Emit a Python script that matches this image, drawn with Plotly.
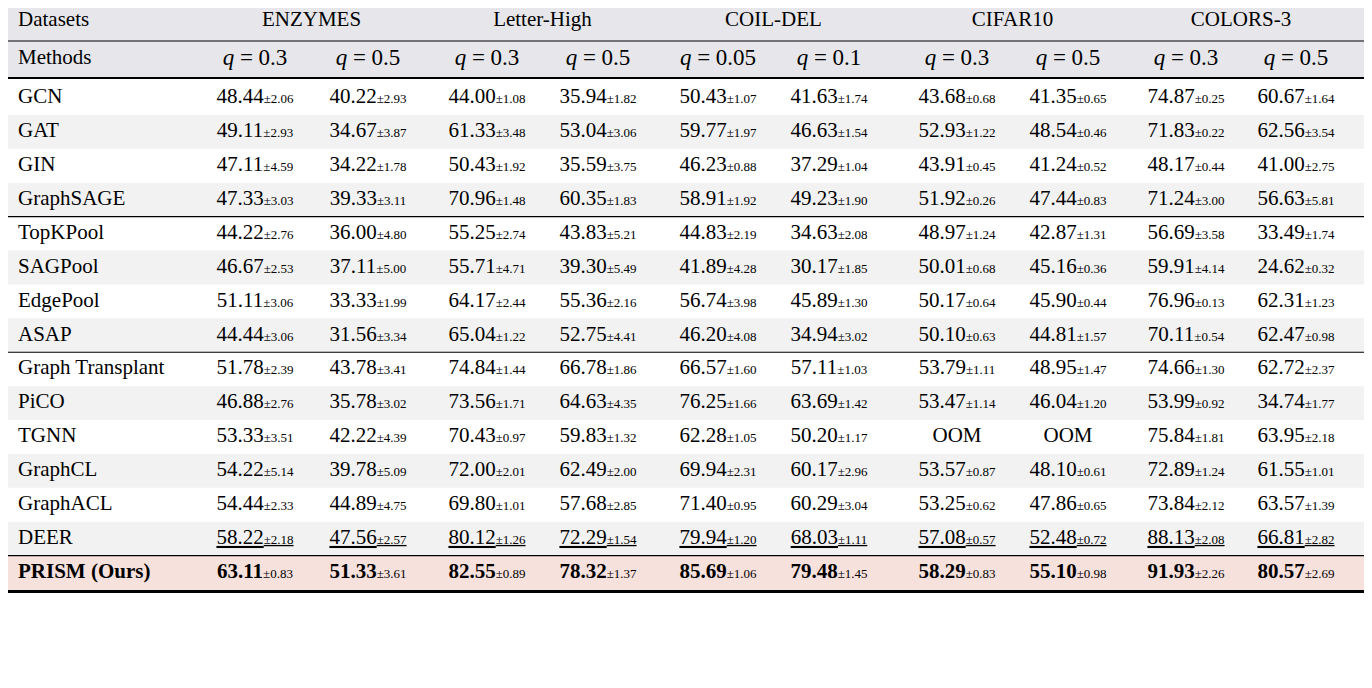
import plotly.graph_objects as go

# Data

datasets = ['ENZYMES', 'Letter-High', 'COIL-DEL', 'CIFAR10', 'COLORS-3']
q_labels = ['0.3', '0.5', '0.3', '0.5', '0.05', '0.1', '0.3', '0.5', '0.3', '0.5']
methods = ['GCN', 'GAT', 'GIN', 'GraphSAGE', 'TopKPool', 'SAGPool', 'EdgePool', 'ASAP',
           'Graph Transplant', 'PiCO', 'TGNN', 'GraphCL', 'GraphACL', 'DEER', 'PRISM (Ours)']
means = [
    [48.44, 40.22, 44.00, 35.94, 50.43, 41.63, 43.68, 41.35, 74.87, 60.67],
    [49.11, 34.67, 61.33, 53.04, 59.77, 46.63, 52.93, 48.54, 71.83, 62.56],
    [47.11, 34.22, 50.43, 35.59, 46.23, 37.29, 43.91, 41.24, 48.17, 41.00],
    [47.33, 39.33, 70.96, 60.35, 58.91, 49.23, 51.92, 47.44, 71.24, 56.63],
    [44.22, 36.00, 55.25, 43.83, 44.83, 34.63, 48.97, 42.87, 56.69, 33.49],
    [46.67, 37.11, 55.71, 39.30, 41.89, 30.17, 50.01, 45.16, 59.91, 24.62],
    [51.11, 33.33, 64.17, 55.36, 56.74, 45.89, 50.17, 45.90, 76.96, 62.31],
    [44.44, 31.56, 65.04, 52.75, 46.20, 34.94, 50.10, 44.81, 70.11, 62.47],
    [51.78, 43.78, 74.84, 66.78, 66.57, 57.11, 53.79, 48.95, 74.66, 62.72],
    [46.88, 35.78, 73.56, 64.63, 76.25, 63.69, 53.47, 46.04, 53.99, 34.74],
    [53.33, 42.22, 70.43, 59.83, 62.28, 50.20, None, None, 75.84, 63.95],
    [54.22, 39.78, 72.00, 62.49, 69.94, 60.17, 53.57, 48.10, 72.89, 61.55],
    [54.44, 44.89, 69.80, 57.68, 71.40, 60.29, 53.25, 47.86, 73.84, 63.57],
    [58.22, 47.56, 80.12, 72.29, 79.94, 68.03, 57.08, 52.48, 88.13, 66.81],
    [63.11, 51.33, 82.55, 78.32, 85.69, 79.48, 58.29, 55.10, 91.93, 80.57],
]
stds = [
    [2.06, 2.93, 1.08, 1.82, 1.07, 1.74, 0.68, 0.65, 0.25, 1.64],
    [2.93, 3.87, 3.48, 3.06, 1.97, 1.54, 1.22, 0.46, 0.22, 3.54],
    [4.59, 1.78, 1.92, 3.75, 0.88, 1.04, 0.45, 0.52, 0.44, 2.75],
    [3.03, 3.11, 1.48, 1.83, 1.92, 1.90, 0.26, 0.83, 3.00, 5.81],
    [2.76, 4.80, 2.74, 5.21, 2.19, 2.08, 1.24, 1.31, 3.58, 1.74],
    [2.53, 5.00, 4.71, 5.49, 4.28, 1.85, 0.68, 0.36, 4.14, 0.32],
    [3.06, 1.99, 2.44, 2.16, 3.98, 1.30, 0.64, 0.44, 0.13, 1.23],
    [3.06, 3.34, 1.22, 4.41, 4.08, 3.02, 0.63, 1.57, 0.54, 0.98],
    [2.39, 3.41, 1.44, 1.86, 1.60, 1.03, 1.11, 1.47, 1.30, 2.37],
    [2.76, 3.02, 1.71, 4.35, 1.66, 1.42, 1.14, 1.20, 0.92, 1.77],
    [3.51, 4.39, 0.97, 1.32, 1.05, 1.17, None, None, 1.81, 2.18],
    [5.14, 5.09, 2.01, 2.00, 2.31, 2.96, 0.87, 0.61, 1.24, 1.01],
    [2.33, 4.75, 1.01, 2.85, 0.95, 3.04, 0.62, 0.65, 2.12, 1.39],
    [2.18, 2.57, 1.26, 1.54, 1.20, 1.11, 0.57, 0.72, 2.08, 2.82],
    [0.83, 3.61, 0.89, 1.37, 1.06, 1.45, 0.83, 0.98, 2.26, 2.69],
]

# Layout (pixel coordinates of the page; the page body has an 8px margin)

col_x = [255, 368, 487, 598, 718, 829, 957, 1068, 1186, 1296]
row_y0, row_h = 98, 33.9
FONT = 'Liberation Serif'
left, right = 5, 1366
OFF = 8

fig = go.Figure()
shapes = []

def band(y0, y1, color):
    shapes.append(dict(type='rect', xref='x', yref='y', x0=left, x1=right, y0=y0, y1=y1,
                       fillcolor=color, line_width=0, layer='below'))

def rule(y, w):
    shapes.append(dict(type='line', xref='x', yref='y', x0=left, x1=right, y0=y, y1=y,
                       line=dict(color='black', width=w)))

band(4, 78, '#e7e7eb')
shaded = {1, 3, 5, 7, 9, 11, 13}
for i in range(len(methods)):
    yc = row_y0 + i * row_h
    if i == len(methods) - 1:
        band(yc - row_h / 2, yc + row_h / 2 + 2, '#f7e1dc')
    elif i in shaded:
        band(yc - row_h / 2, yc + row_h / 2, '#f2f2f2')

rule(4, 3)
rule(41, 1.2)
rule(78, 2)
rule(row_y0 + 3.5 * row_h, 1.2)
rule(row_y0 + 7.5 * row_h, 1.2)
rule(row_y0 + 13.5 * row_h, 1.2)
rule(row_y0 + 14.5 * row_h + 2, 3)

# Header text
fig.add_trace(go.Scatter(x=[18, 18], y=[21, 59], text=['Datasets', 'Methods'], mode='text',
                         textposition='middle right', hoverinfo='skip',
                         textfont=dict(family=FONT, size=21, color='black')))
fig.add_trace(go.Scatter(x=[(col_x[2 * k] + col_x[2 * k + 1]) / 2 for k in range(5)], y=[21] * 5,
                         text=datasets, mode='text', hoverinfo='skip',
                         textfont=dict(family=FONT, size=21, color='black')))
fig.add_trace(go.Scatter(x=col_x, y=[59] * 10, text=['<i>q</i> = ' + q for q in q_labels],
                         mode='text', hoverinfo='skip',
                         textfont=dict(family=FONT, size=23, color='black')))

# Body
names, cx, cy, ct = [], [], [], []
for i, m in enumerate(methods):
    yc = row_y0 + i * row_h
    last = i == len(methods) - 1
    names.append('<b>' + m + '</b>' if last else m)
    for j in range(10):
        if means[i][j] is None:
            t = 'OOM'
        else:
            t = f'{means[i][j]:.2f}<span style="font-size:13px">±{stds[i][j]:.2f}</span>'
            if last:
                t = f'<b>{means[i][j]:.2f}</b><span style="font-size:13px">±{stds[i][j]:.2f}</span>'
            elif i == len(methods) - 2:
                t = '<u>' + t + '</u>'
        cx.append(col_x[j])
        cy.append(yc)
        ct.append(t)

fig.add_trace(go.Scatter(x=[18] * len(methods), y=[row_y0 + i * row_h for i in range(len(methods))],
                         text=names, mode='text', textposition='middle right', hoverinfo='skip',
                         textfont=dict(family=FONT, size=21, color='black')))
fig.add_trace(go.Scatter(x=cx, y=cy, text=ct, mode='text', hoverinfo='skip',
                         textfont=dict(family=FONT, size=21, color='black')))

# Section heading below
fig.add_annotation(x=5, y=664, xref='x', yref='y', xanchor='left', showarrow=False,
                   text='4   E<span style="font-size:27px">XPERIMENTS</span>',
                   font=dict(family=FONT, size=35, color='black'))

fig.update_layout(width=1372 - 2 * OFF, height=688 - 2 * OFF, margin=dict(l=0, r=0, t=0, b=0),
                  plot_bgcolor='white', paper_bgcolor='white', showlegend=False, shapes=shapes)
fig.update_xaxes(range=[OFF, 1372 - OFF], visible=False)
fig.update_yaxes(range=[688 - OFF, OFF], visible=False)

fig.write_html("out.html")
